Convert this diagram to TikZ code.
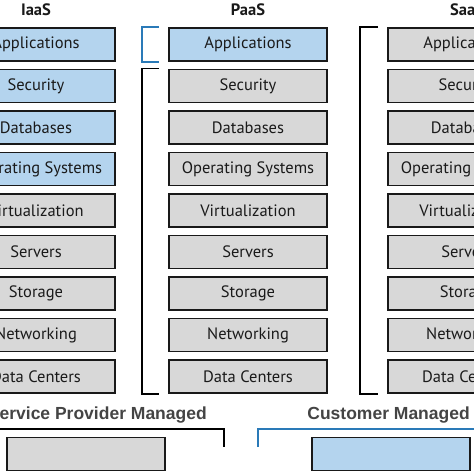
\documentclass[tikz,border=0pt]{standalone}
\usepackage{fontspec}
\setmainfont{PT Sans}
\newfontfamily\legfont{Liberation Sans}
\usetikzlibrary{calc}
\definecolor{boxblue}{HTML}{B4D4EE}
\definecolor{boxgray}{HTML}{D8D8D8}
\definecolor{lineblue}{HTML}{2A7AB8}
\definecolor{txt}{HTML}{1A1A1A}
\definecolor{legtxt}{HTML}{444444}
\tikzset{
  layer/.style={draw=black!90, line width=1.9pt, minimum width=158pt, minimum height=33pt,
    inner sep=0pt, font=\fontsize{16.5}{19}\selectfont, text=txt},
  bl/.style={layer, fill=boxblue},
  gr/.style={layer, fill=boxgray},
  title/.style={font=\fontsize{16.5}{19}\selectfont\bfseries, text=txt},
  brk/.style={line width=1.6pt, draw=black},
  brkb/.style={line width=1.6pt, draw=lineblue},
  leg/.style={font=\legfont\fontsize{17.5}{20}\selectfont\bfseries, text=legtxt, inner sep=0pt}
}
\begin{document}
\begin{tikzpicture}[x=1pt,y=-1pt]
\useasboundingbox (0,0) rectangle (474,474);
\clip (0,0) rectangle (474,474);
\node[title] (ti) at (36,10) {IaaS};
\node[title] (tp) at (248,10) {PaaS};
\node[title] (ts) at (467,10) {SaaS};
\foreach \t [count=\i from 0] in {Applications,Security,Databases,Operating Systems,Virtualization,Servers,Storage,Networking,Data Centers}{
  \pgfmathsetmacro{\yy}{44.5+41.5*\i}
  \ifnum\i<4
    \node[bl] (i\i) at (36,\yy) {\t};
  \else
    \node[gr] (i\i) at (36,\yy) {\t};
  \fi
  \ifnum\i<1
    \node[bl] (p\i) at (248,\yy) {\t};
  \else
    \node[gr] (p\i) at (248,\yy) {\t};
  \fi
  \node[gr] (s\i) at (467,\yy) {\t};
}
% brackets
\draw[brkb] ($(p0.north west)+(-9,0)$) -- ($(p0.north west)+(-26,0)$) -- ($(p0.south west)+(-26,0)$) -- ($(p0.south west)+(-9,0)$);
\draw[brk] ($(p1.north west)+(-9,0)$) -- ($(p1.north west)+(-26,0)$) -- ($(p8.south west)+(-26,0)$) -- ($(p8.south west)+(-9,0)$);
\draw[brk] ($(s0.north west)+(-9,0)$) -- ($(s0.north west)+(-27,0)$) -- ($(s8.south west)+(-27,0)$) -- ($(s8.south west)+(-9,0)$);
% legend
\node[leg, anchor=east] (lsp) at (207,415) {Service Provider Managed};
\node[leg, anchor=east] (lcm) at (470,415) {Customer Managed};
\node[layer, fill=boxgray] (lg) at (86,454) {};
\node[layer, fill=boxblue] (lb) at (391,454) {};
\coordinate (a1) at (-10,429);
\coordinate (a2) at (224,429);
\coordinate (a3) at (224,447);
\draw[brk] (a1) -- (a2) -- (a3);
\coordinate (b1) at (258,447);
\coordinate (b2) at (258,429);
\coordinate (b3) at (484,429);
\draw[brkb] (b1) -- (b2) -- (b3);
\end{tikzpicture}
\end{document}
